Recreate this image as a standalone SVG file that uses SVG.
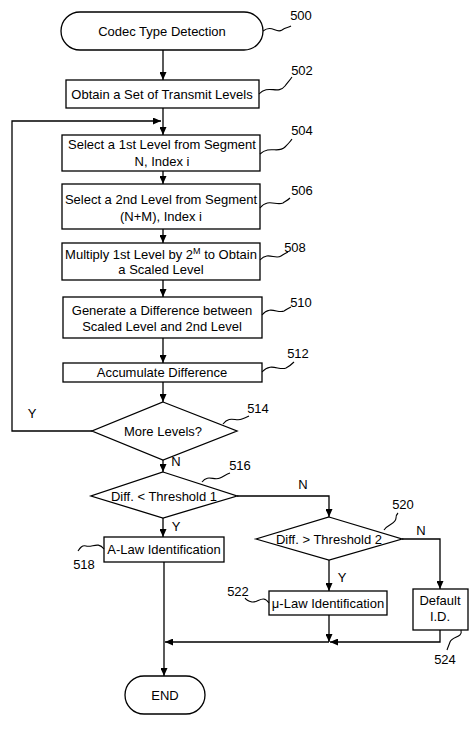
<svg xmlns="http://www.w3.org/2000/svg" width="474" height="741" viewBox="0 0 474 741">
<defs>
<style>
.s{fill:#fff;stroke:#000;stroke-width:1.3}
.c{fill:none;stroke:#000;stroke-width:1.3}
.q{fill:none;stroke:#000;stroke-width:1.1}
text{font-family:"Liberation Sans",Arial,sans-serif;font-size:13px;fill:#000;text-anchor:middle}
</style>
<marker id="a" markerWidth="8" markerHeight="7" refX="8" refY="3.5" orient="auto" markerUnits="userSpaceOnUse"><path d="M0,0 L8,3.5 L0,7 z" fill="#000"/></marker>
</defs>
<rect width="474" height="741" fill="#fff"/>
<g id="connectors">
<path class="c" d="M163,50 V80" marker-end="url(#a)"/>
<path class="c" d="M163,108 V135" marker-end="url(#a)"/>
<path class="c" d="M92,431 H12 V121 H161" marker-end="url(#a)"/>
<path class="c" d="M163,171 V184" marker-end="url(#a)"/>
<path class="c" d="M163,229 V243" marker-end="url(#a)"/>
<path class="c" d="M163,280 V297" marker-end="url(#a)"/>
<path class="c" d="M163,338 V363" marker-end="url(#a)"/>
<path class="c" d="M163,382 V402" marker-end="url(#a)"/>
<path class="c" d="M163,460 V472" marker-end="url(#a)"/>
<path class="c" d="M163,518 V537" marker-end="url(#a)"/>
<path class="c" d="M237,496 H329 V517" marker-end="url(#a)"/>
<path class="c" d="M329,560 V591" marker-end="url(#a)"/>
<path class="c" d="M402,539 H440 V589" marker-end="url(#a)"/>
<path class="c" d="M440,630 V642 H330" marker-end="url(#a)"/>
<path class="c" d="M329,642 H165" marker-end="url(#a)"/>
<path class="c" d="M329,615 V642" marker-end="url(#a)"/>
<path class="c" d="M164,562 V676" marker-end="url(#a)"/>
<text x="32" y="418">Y</text>
<text x="176" y="466">N</text>
<text x="176" y="531">Y</text>
<text x="303" y="489">N</text>
<text x="421" y="535">N</text>
<text x="342" y="582">Y</text>
</g>
<g id="n500">
<rect class="s" x="61" y="12" width="202" height="38" rx="19"/>
<text x="162" y="36">Codec Type Detection</text>
<path class="q" d="M263,31 C272,24 276,34 282,30 C286,27 288,28 291,26"/>
<text x="301" y="20">500</text>
</g>
<g id="n502">
<rect class="s" x="66" y="80" width="193" height="28"/>
<text x="162" y="99">Obtain a Set of Transmit Levels</text>
<path class="q" d="M259,94 C268,84 278,95 285,86 C288,82 290,80 292,77"/>
<text x="302" y="75">502</text>
</g>
<g id="n504">
<rect class="s" x="62" y="135" width="198" height="36"/>
<text x="162" y="149">Select a 1st Level from Segment</text>
<text x="162" y="166">N, Index i</text>
<path class="q" d="M260,154 C270,145 278,154 285,147 C288,144 290,142 292,139"/>
<text x="302" y="135">504</text>
</g>
<g id="n506">
<rect class="s" x="62" y="184" width="198" height="45"/>
<text x="161" y="204">Select a 2nd Level from Segment</text>
<text x="161" y="221">(N+M), Index i</text>
<path class="q" d="M260,208 C268,198 276,206 283,203 C286,201 288,200 290,198"/>
<text x="302" y="195">506</text>
</g>
<g id="n508">
<rect class="s" x="62" y="243" width="198" height="37"/>
<text x="161" y="259">Multiply 1st Level by 2<tspan font-size="9" dy="-5">M</tspan><tspan dy="5"> to Obtain</tspan></text>
<text x="161" y="274">a Scaled Level</text>
<path class="q" d="M260,260 C268,251 275,260 281,256 C284,254 286,253 288,252"/>
<text x="295" y="252">508</text>
</g>
<g id="n510">
<rect class="s" x="63" y="297" width="199" height="41"/>
<text x="162" y="315">Generate a Difference between</text>
<text x="162" y="331">Scaled Level and 2nd Level</text>
<path class="q" d="M262,315 C270,305 278,314 284,311 C287,309 289,308 291,307"/>
<text x="301" y="307">510</text>
</g>
<g id="n512">
<rect class="s" x="63" y="363" width="199" height="19"/>
<text x="162" y="377">Accumulate Difference</text>
<path class="q" d="M262,372 C271,362 279,371 286,368 C290,366 292,364 294,362"/>
<text x="298" y="358">512</text>
</g>
<g id="n514">
<polygon class="s" points="163,402 237,431 163,460 92,431"/>
<text x="163" y="436">More Levels?</text>
<path class="q" d="M223,424 C230,415 236,422 242,419 C245,418 247,417 249,416"/>
<text x="258" y="413">514</text>
</g>
<g id="n516">
<polygon class="s" points="163,472 237,496 163,518 91,496"/>
<text x="164" y="501">Diff. &lt; Threshold 1</text>
<path class="q" d="M202,482 C208,474 214,481 220,478 C224,476 227,474 230,473"/>
<text x="240" y="470">516</text>
</g>
<g id="n518">
<rect class="s" x="104" y="537" width="120" height="25"/>
<text x="164" y="554">A-Law Identification</text>
<path class="q" d="M104,549 C98,541 92,548 86,546 C82,545 80,548 78,551"/>
<text x="84" y="569">518</text>
</g>
<g id="n520">
<polygon class="s" points="329,517 402,539 329,560 256,539"/>
<text x="329" y="544">Diff. &gt; Threshold 2</text>
<path class="q" d="M384,530 C388,524 396,524 396,518 C396,515 397,514 398,513"/>
<text x="403" y="509">520</text>
</g>
<g id="n522">
<rect class="s" x="269" y="591" width="118" height="24"/>
<text x="328" y="608">μ-Law Identification</text>
<path class="q" d="M269,603 C263,594 258,603 252,602 C248,601 246,600 245,598"/>
<text x="238" y="596">522</text>
</g>
<g id="n524">
<rect class="s" x="413" y="589" width="55" height="41"/>
<text x="440" y="605">Default</text>
<text x="440" y="621">I.D.</text>
<path class="q" d="M461,630 C463,638 452,636 450,642 C449,645 448,647 447,650"/>
<text x="445" y="664">524</text>
</g>
<g id="end">
<rect class="s" x="125" y="676" width="80" height="38" rx="19"/>
<text x="165" y="700">END</text>
</g>
</svg>
